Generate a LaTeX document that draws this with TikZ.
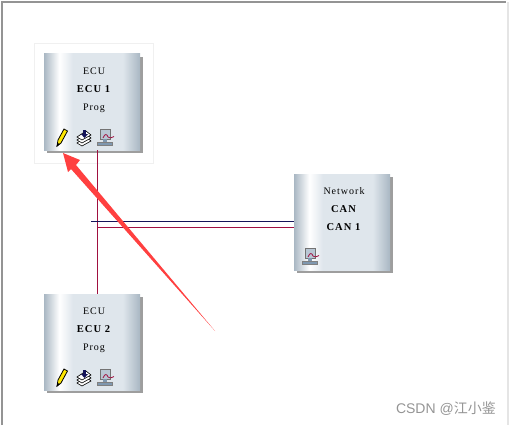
\documentclass[tikz,border=0pt]{standalone}
\usepackage{fontspec}
\setsansfont{Liberation Sans}
\newfontfamily\cjkfont{Noto Sans CJK SC}
\newfontfamily\cardfont[LetterSpace=10]{Liberation Serif}
\usetikzlibrary{positioning,shadows}
\definecolor{cardedge}{HTML}{A9B7C3}
\definecolor{cardmid}{HTML}{DFE6EC}
\definecolor{busblue}{HTML}{14145A}
\definecolor{buscrimson}{HTML}{A01040}
\definecolor{arrowred}{HTML}{FF4040}
\definecolor{pcsteel}{HTML}{7F98B0}
\pgfdeclarehorizontalshading{cardshade}{100bp}{
  color(0bp)=(cardedge); color(25bp)=(cardedge); color(33bp)=(white); color(40bp)=(cardmid);
  color(66bp)=(cardmid); color(75bp)=(cardedge); color(100bp)=(cardedge)}
\begin{document}
\begin{tikzpicture}[
  x=1pt,y=-1pt,
  card/.style={shade,shading=cardshade,minimum size=96pt,inner sep=0pt,outer sep=0pt,
    drop shadow={shadow xshift=3pt,shadow yshift=-3pt,fill=black!38,opacity=1}},
  cardtext/.style={font=\cardfont\fontsize{10}{18}\selectfont,align=center,inner sep=0pt,xshift=2pt},
  wireblue/.style={draw=busblue,line width=0.9pt},
  wirered/.style={draw=buscrimson,line width=0.9pt},
  pencilpic/.pic={
    \filldraw[fill=yellow!90!orange,draw=black,line width=0.8pt]
      (1,-1) -- (2,-7) -- (8,-18) -- (11.5,-16) -- (5,-4) -- cycle;
    \fill[black] (0.5,0) -- (1.5,-4) -- (4,-3) -- cycle;},
  stackpic/.pic={
    \foreach \lift in {0,3,6}
      \filldraw[fill=white,draw=black,line width=0.6pt]
        (0,-4-\lift) -- (9,-10-\lift) -- (14,-6-\lift) -- (5,-1-\lift) -- cycle;
    \fill[busblue] (6,-17) rectangle (9,-13);
    \fill[busblue] (4,-13) -- (11,-13) -- (7.5,-9) -- cycle;},
  pcpic/.pic={
    \filldraw[fill=cardmid!60!pcsteel,draw=black!55,line width=0.8pt] (3,-17) rectangle (13,-7);
    \fill[pcsteel] (5.5,-7) rectangle (9.5,-3);
    \filldraw[fill=pcsteel,draw=black!50,line width=0.4pt] (0,-4) rectangle (15,-0.5);
    \draw[buscrimson,line width=0.8pt] (6,-8) .. controls (8,-13) and (10,-12) .. (11,-9)
      .. controls (12,-7.5) and (14,-8) .. (17,-9.5);}]
\useasboundingbox (0,0) rectangle (510,425);
% window edge
\draw[black!42,line width=2pt] (2,425) -- (2,2.5) -- (506,2.5);
\draw[black!10,line width=2.5pt] (508,2) -- (508,425);
% selection frame
\node[draw=black!6,line width=1pt,minimum size=119pt,inner sep=0pt] (selframe) at (93.5,103.5) {};
% cards
\node[card] (ecu1) at (92,102) {};
\node[card,below=144pt of ecu1] (ecu2) {};
\node[card] (can1) at (342,222) {};
\node[cardtext,below=13.5pt of ecu1.north] (ecu1text) {ECU\\\textbf{\fontsize{10.5}{18}\selectfont ECU 1}\\Prog};
\node[cardtext,below=13.5pt of ecu2.north] (ecu2text) {ECU\\\textbf{\fontsize{10.5}{18}\selectfont ECU 2}\\Prog};
\node[cardtext,below=13.5pt of can1.north] (can1text) {Network\\\textbf{\fontsize{10.5}{18}\selectfont CAN}\\\textbf{\fontsize{10.5}{18}\selectfont CAN 1}};
% icons
\foreach \cardname in {ecu1,ecu2}{
  \pic[xshift=12pt,yshift=3pt] at (\cardname.south west) {pencilpic};
  \pic[xshift=33pt,yshift=3pt] at (\cardname.south west) {stackpic};
  \pic[xshift=53pt,yshift=4pt] at (\cardname.south west) {pcpic};
}
\pic[xshift=8pt,yshift=5pt] at (can1.south west) {pcpic};
% bus lines
\coordinate (busa) at (91,221);
\coordinate (busb) at (97,227);
\draw[wirered] (ecu1.south -| busb) -- (ecu2.north -| busb);
\draw[wireblue] (busa) -- (busa -| can1.west);
\draw[wirered] (busb) -- (busb -| can1.west);
% red arrow
\fill[arrowred] (63,153) -- (80,160) -- (76,165) -- (215,331) -- (71,169) -- (68,172) -- cycle;
% watermark
\node[font=\sffamily\fontsize{14}{14}\selectfont,text=black!42,anchor=east,inner sep=0pt] (mark) at (496,409) {CSDN @{\cjkfont 江小鉴}};
\end{tikzpicture}
\end{document}
